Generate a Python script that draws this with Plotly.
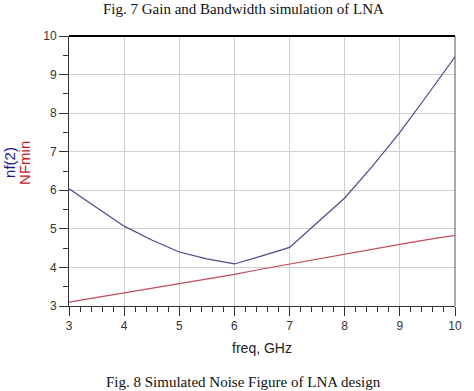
import plotly.graph_objects as go

freq = [3.0, 3.5, 4.0, 4.5, 5.0, 5.5, 6.0, 6.5, 7.0, 7.5, 8.0, 8.5, 9.0, 9.5, 10.0]
nf2 = [6.04, 5.56, 5.07, 4.71, 4.40, 4.22, 4.09, 4.30, 4.52, 5.16, 5.80, 6.62, 7.50, 8.47, 9.46]
nfmin = [3.10, 3.22, 3.35, 3.46, 3.58, 3.70, 3.82, 3.96, 4.09, 4.22, 4.35, 4.48, 4.60, 4.72, 4.83]

x_ticks = [3, 4, 5, 6, 7, 8, 9, 10]
y_ticks = [3, 4, 5, 6, 7, 8, 9, 10]

fig = go.Figure()
fig.add_trace(go.Scatter(x=freq, y=nf2, mode="lines",
                         line=dict(color="#4b4b8c", width=1.2), name="nf(2)"))
fig.add_trace(go.Scatter(x=freq, y=nfmin, mode="lines",
                         line=dict(color="#c04b5a", width=1.2), name="NFmin"))

sans = "Liberation Sans, Arial, sans-serif"
serif = "Liberation Serif, Times New Roman, serif"
axis_font = dict(family=sans, size=12, color="#333333")

fig.update_layout(
    width=474, height=391,
    margin=dict(l=69, r=17, t=36, b=85),
    paper_bgcolor="white", plot_bgcolor="white",
    showlegend=False,
    xaxis=dict(range=[3, 10], tickvals=x_ticks, ticktext=[str(v) for v in x_ticks],
               showgrid=True, gridcolor="#cfcfcf", gridwidth=1,
               showline=True, linecolor="#333333", linewidth=1,
               ticks="outside", ticklen=9, tickcolor="#333333",
               minor=dict(dtick=0.2, ticks="outside", ticklen=5, tickcolor="#333333", showgrid=False),
               tickfont=axis_font, zeroline=False,
               title=dict(text="freq, GHz", font=dict(family=sans, size=14, color="#222222"), standoff=10)),
    yaxis=dict(range=[3, 10], tickvals=y_ticks, ticktext=[str(v) for v in y_ticks],
               showgrid=True, gridcolor="#cfcfcf", gridwidth=1,
               showline=True, linecolor="#333333", linewidth=1,
               ticks="outside", ticklen=9, tickcolor="#333333",
               minor=dict(dtick=0.5, ticks="outside", ticklen=5, tickcolor="#333333", showgrid=False),
               tickfont=axis_font, zeroline=False),
    shapes=[
        dict(type="line", xref="paper", yref="paper", x0=0, x1=1, y0=1, y1=1,
             line=dict(color="black", width=2)),
        dict(type="line", xref="paper", yref="paper", x0=1, x1=1, y0=0, y1=1,
             line=dict(color="#555555", width=1)),
    ],
    annotations=[
        dict(text="nf(2)", xref="paper", yref="paper", x=0, y=0.53, xanchor="center", yanchor="middle",
             xshift=-59, textangle=-90, showarrow=False,
             font=dict(family=sans, size=15, color="#1a1a8c")),
        dict(text="NFmin", xref="paper", yref="paper", x=0, y=0.53, xanchor="center", yanchor="middle",
             xshift=-44, textangle=-90, showarrow=False,
             font=dict(family=sans, size=15, color="#cc1122")),
        dict(text="Fig. 7 Gain and Bandwidth simulation of LNA", xref="paper", yref="paper",
             x=0.451, y=1, yshift=27, xanchor="center", yanchor="middle", showarrow=False,
             font=dict(family=serif, size=15, color="#111111")),
        dict(text="Fig. 8 Simulated Noise Figure of LNA design", xref="paper", yref="paper",
             x=0.451, y=0, yshift=-76, xanchor="center", yanchor="middle", showarrow=False,
             font=dict(family=serif, size=15, color="#111111")),
    ],
)

fig.write_html("out.html", config={"displayModeBar": False},
               post_script="document.body.style.margin='0px';")
